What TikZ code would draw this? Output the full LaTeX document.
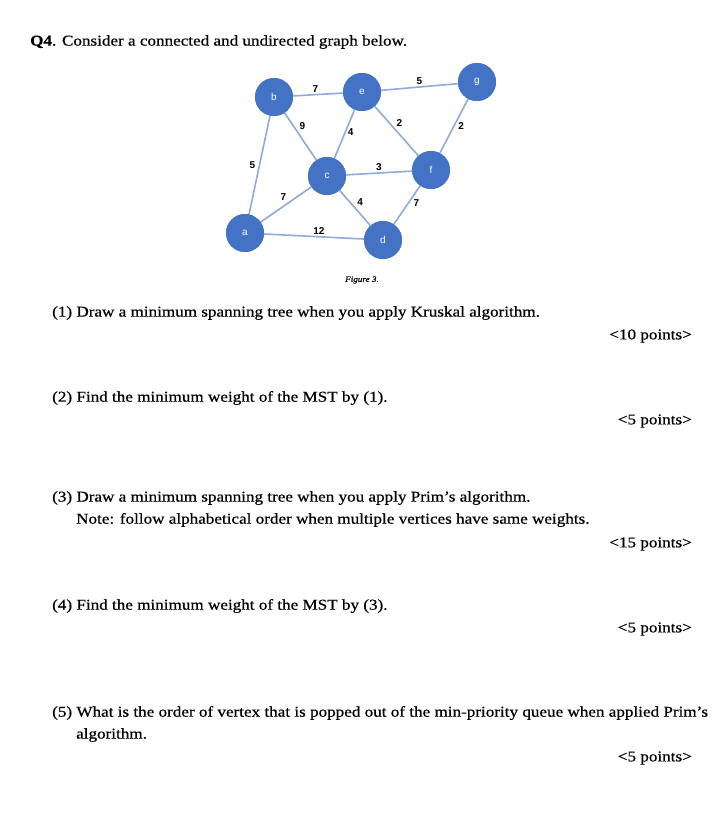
\documentclass[tikz,border=0pt]{standalone}
\usepackage{fontspec}
\setmainfont{Liberation Serif}[FakeStretch=1.14,FakeBold=0.6]
\newfontfamily\lab{Liberation Sans}
\begin{document}
\begin{tikzpicture}[x=1pt,y=-1pt,
  vtx/.style={circle,fill={rgb,255:red,68;green,114;blue,196},minimum size=38pt,inner sep=0pt,text=white,font=\lab\normalsize},
  edge/.style={draw={rgb,255:red,143;green,170;blue,220},line width=1.6pt},
  wt/.style={font=\lab\bfseries\fontsize{10}{12}\selectfont,inner sep=1.5pt},
  txt/.style={anchor=west,font=\fontsize{15}{17}\selectfont,inner sep=0pt},
  pts/.style={anchor=east,font=\fontsize{15}{17}\selectfont,inner sep=0pt}]
\useasboundingbox (0,0) rectangle (723,825);
\node[txt] (q) at (30,42) {\textbf{Q4}. Consider a connected and undirected graph below.};
\node[vtx] (b) at (274,97) {b};
\node[vtx] (e) at (362,92) {e};
\node[vtx] (g) at (477,82) {g};
\node[vtx] (c) at (327,176) {c};
\node[vtx] (f) at (431,170) {f};
\node[vtx] (a) at (245,233) {a};
\node[vtx] (d) at (383,240) {d};
\path[edge] (b) -- node[wt,above,pos=.45] {7} (e);
\path[edge] (e) -- node[wt,above] {5} (g);
\path[edge] (b) -- node[wt,left,xshift=-2pt] {5} (a);
\path[edge] (b) -- node[wt,above right,pos=.4] {9} (c);
\path[edge] (e) -- node[wt,right,pos=.45] {4} (c);
\path[edge] (e) -- node[wt,above right,pos=.45] {2} (f);
\path[edge] (g) -- node[wt,right,xshift=2pt] {2} (f);
\path[edge] (c) -- node[wt,above] {3} (f);
\path[edge] (a) -- node[wt,above left,pos=.55] {7} (c);
\path[edge] (c) -- node[wt,above right,pos=.5] {4} (d);
\path[edge] (a) -- node[wt,above,pos=.55] {12} (d);
\path[edge] (f) -- node[wt,right,pos=.45,xshift=3pt] {7} (d);
\foreach \n/\l in {b/b,e/e,g/g,c/c,f/f,a/a,d/d} \node[vtx] at (\n) {\l};
\node[font=\itshape\footnotesize] (cap) at (362,280) {Figure 3.};
\node[txt] (t1) at (52,313) {(1) Draw a minimum spanning tree when you apply Kruskal algorithm.};
\node[pts] (p1) at (692,336) {<10 points>};
\node[txt] (t2) at (52,398) {(2) Find the minimum weight of the MST by (1).};
\node[pts] (p2) at (692,421) {<5 points>};
\node[txt] (t3) at (52,498) {(3) Draw a minimum spanning tree when you apply Prim's algorithm.};
\node[txt] (t3b) at (76,520) {Note: follow alphabetical order when multiple vertices have same weights.};
\node[pts] (p3) at (692,544) {<15 points>};
\node[txt] (t4) at (52,606) {(4) Find the minimum weight of the MST by (3).};
\node[pts] (p4) at (692,629) {<5 points>};
\node[txt] (t5) at (52,713) {(5) What is the order of vertex that is popped out of the min-priority queue when applied Prim's};
\node[txt] (t5b) at (76,735) {algorithm.};
\node[pts] (p5) at (692,758) {<5 points>};
\end{tikzpicture}
\end{document}
